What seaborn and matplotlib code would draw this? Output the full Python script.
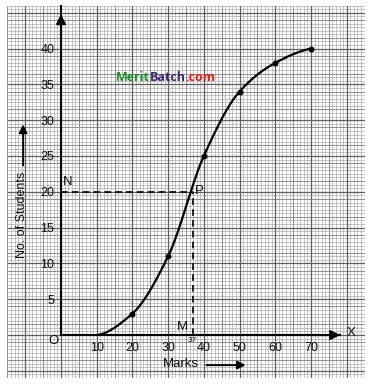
import numpy as np
import pandas as pd
import matplotlib
matplotlib.use("Agg")
import matplotlib.pyplot as plt
import seaborn as sns

# ---------------- data ----------------
marks = [10, 20, 30, 40, 50, 60, 70]
students = [0, 3, 11, 25, 34, 38, 40]
x_ticks = [10, 20, 30, 40, 50, 60, 70]
y_ticks = [5, 10, 15, 20, 25, 30, 35, 40]
median_n = 20
median_mark = 37

sns.set_theme(style="white")
plt.rcParams["font.family"] = ["Liberation Sans", "DejaVu Sans"]


def pchip(x, y, xs):
    x = np.asarray(x, float)
    y = np.asarray(y, float)
    h = np.diff(x)
    d = np.diff(y) / h
    n = len(x)
    m = np.zeros(n)
    for k in range(1, n - 1):
        if d[k - 1] * d[k] <= 0:
            m[k] = 0.0
        else:
            w1 = 2 * h[k] + h[k - 1]
            w2 = h[k] + 2 * h[k - 1]
            m[k] = (w1 + w2) / (w1 / d[k - 1] + w2 / d[k])

    def end(h0, h1, d0, d1):
        mm = ((2 * h0 + h1) * d0 - h0 * d1) / (h0 + h1)
        if np.sign(mm) != np.sign(d0):
            mm = 0.0
        elif np.sign(d0) != np.sign(d1) and abs(mm) > abs(3 * d0):
            mm = 3 * d0
        return mm

    m[0] = end(h[0], h[1], d[0], d[1])
    m[-1] = end(h[-1], h[-2], d[-1], d[-2])
    idx = np.clip(np.searchsorted(x, xs) - 1, 0, n - 2)
    t = (xs - x[idx]) / h[idx]
    h00 = 2 * t**3 - 3 * t**2 + 1
    h10 = t**3 - 2 * t**2 + t
    h01 = -2 * t**3 + 3 * t**2
    h11 = t**3 - t**2
    return h00 * y[idx] + h10 * h[idx] * m[idx] + h01 * y[idx + 1] + h11 * h[idx] * m[idx + 1]


fig = plt.figure(figsize=(3.71, 3.89), dpi=100)
ax = fig.add_axes([0.02, 0.0283, 0.9625, 0.9573])
XMIN, XMAX, YMIN, YMAX = -15, 85, -6, 46
ax.set_xlim(XMIN, XMAX)
ax.set_ylim(YMIN, YMAX)

# graph-paper background
ax.vlines(np.arange(XMIN, XMAX + 0.1, 1), YMIN, YMAX, color="#ababab", lw=0.5, zorder=0)
ax.hlines(np.arange(YMIN, YMAX + 0.01, 0.5), XMIN, XMAX, color="#ababab", lw=0.5, zorder=0)
ax.vlines(np.arange(XMIN, XMAX + 0.1, 5), YMIN, YMAX, color="#888888", lw=0.6, zorder=0)
ax.hlines(np.arange(YMIN, YMAX + 0.01, 2.5), XMIN, XMAX, color="#888888", lw=0.6, zorder=0)
ax.vlines(np.arange(-10, XMAX + 0.1, 10), YMIN, YMAX, color="#606060", lw=0.9, zorder=0)
ax.hlines(np.arange(-5, YMAX + 0.01, 5), XMIN, XMAX, color="#606060", lw=0.9, zorder=0)

# axes (spines through origin)
for s in ["top", "right"]:
    ax.spines[s].set_visible(False)
ax.spines["left"].set_position(("data", 0))
ax.spines["bottom"].set_position(("data", 0))
ax.spines["left"].set_bounds(0, YMAX)
ax.spines["bottom"].set_bounds(0, 78)
for s in ["left", "bottom"]:
    ax.spines[s].set_color("black")
    ax.spines[s].set_linewidth(1.5)
    ax.spines[s].set_zorder(3)
ax.set_xticks(x_ticks)
ax.set_yticks(y_ticks)
ax.set_xticklabels([str(v) for v in x_ticks])
ax.set_yticklabels([str(v) for v in y_ticks])
ax.tick_params(axis="both", direction="inout", length=4.5, width=1.0, color="black",
               labelsize=9, labelcolor="#111111", pad=2.5)

# arrow heads on axes
ax.annotate("", xy=(79, 0), xytext=(70, 0),
            arrowprops=dict(arrowstyle="-|>", color="black", lw=1.5, mutation_scale=14))
ax.annotate("", xy=(0, 45.2), xytext=(0, 40),
            arrowprops=dict(arrowstyle="-|>", color="black", lw=1.5, mutation_scale=14))

# ogive curve
xs = np.linspace(marks[0], marks[-1], 400)
curve = pd.DataFrame({"Marks": xs, "Students": pchip(marks, students, xs)})
sns.lineplot(data=curve, x="Marks", y="Students", color="black", lw=1.6,
             sort=False, estimator=None, ax=ax, zorder=4)
pts = pd.DataFrame({"Marks": marks, "Students": students})
pts = pts[pts["Students"] > 0]
sns.scatterplot(data=pts, x="Marks", y="Students", color="black", s=18,
                edgecolor="black", linewidth=0, ax=ax, zorder=5)
ax.set_xlabel("")
ax.set_ylabel("")

# median construction
ax.plot([0, median_mark], [median_n, median_n], color="black", lw=1.2,
        ls=(0, (4, 2.5)), zorder=4)
ax.plot([median_mark, median_mark], [0, median_n], color="black", lw=1.2,
        ls=(0, (4, 2.5)), zorder=4)

tk = dict(color="#111111", fontsize=9.5)
ax.text(-2.2, -0.8, "O", ha="center", va="center", **tk)
ax.text(81.3, 0.3, "X", ha="center", va="center", **tk)
ax.text(2.0, 21.4, "N", ha="center", va="center", **tk)
ax.text(38.6, 20.1, "P", ha="center", va="center", **tk)
ax.text(33.9, 1.1, "M", ha="center", va="center", **tk)
ax.text(36.7, -0.7, str(median_mark), ha="center", va="center", color="#111111", fontsize=6)

# axis titles with arrows
ax.text(-10.9, 16.8, "No. of Students", rotation=90, ha="center", va="center",
        color="#111111", fontsize=9)
ax.annotate("", xy=(-10.6, 29.8), xytext=(-10.6, 23.3),
            arrowprops=dict(arrowstyle="-|>", color="black", lw=1.4, mutation_scale=12))
ax.text(28.6, -4.1, "Marks", ha="left", va="center", color="#111111", fontsize=9.5)
ax.annotate("", xy=(52.5, -4.2), xytext=(40.0, -4.2),
            arrowprops=dict(arrowstyle="-|>", color="black", lw=1.4, mutation_scale=12))

# watermark
wm = dict(fontsize=9, fontweight="bold", va="center", ha="left", family=["Open Sans", "DejaVu Sans"])
t1 = ax.text(15.3, 35.9, "Merit", color="#1e8c2a", **wm)
fig.canvas.draw()
t2 = ax.annotate("Batch", xycoords=t1, xy=(1, 0.5), color="#3b2a6e", **wm)
t3 = ax.annotate(".com", xycoords=t2, xy=(1, 0.5), color="#e0201b", **wm)

fig.savefig("out.png", dpi=100, facecolor="white")
